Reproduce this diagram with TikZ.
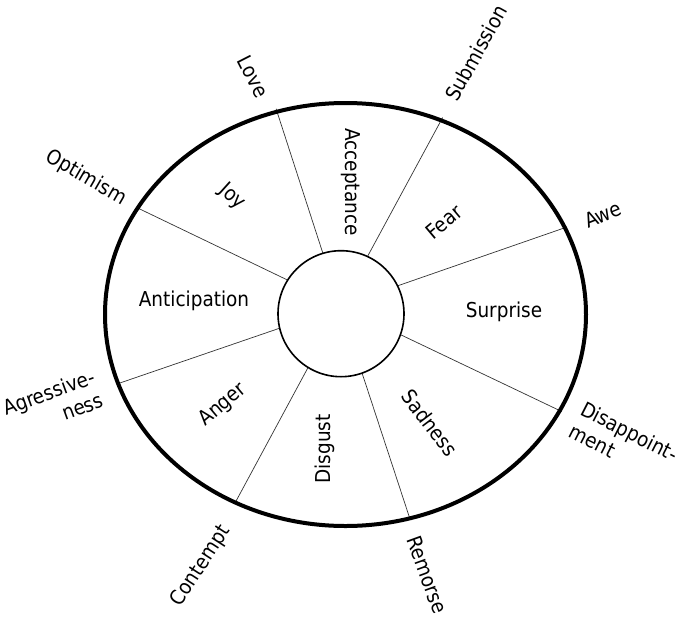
\documentclass[tikz,border=0pt]{standalone}
\usepackage{fontspec}
\setmainfont{DejaVu Sans Condensed}
\usetikzlibrary{shapes.geometric}
\begin{document}
\begin{tikzpicture}[x=1pt,y=-1pt,
  lbl/.style={font=\fontsize{20.5}{25}\selectfont, inner sep=0pt},
  spoke/.style={line width=0.7pt, draw=black!80, shorten <=-4pt, shorten >=-2pt},
]
\useasboundingbox (0,0) rectangle (685,621);

% spoke end points
\coordinate (i1) at (322.7,252.7); \coordinate (o1) at (276.7,110.7);
\coordinate (i2) at (368.3,255);   \coordinate (o2) at (441.7,119.3);
\coordinate (i3) at (400,285);     \coordinate (o3) at (565,227.7);
\coordinate (i4) at (403.3,336);   \coordinate (o4) at (560,410.7);
\coordinate (i5) at (362.7,375);   \coordinate (o5) at (409,516);
\coordinate (i6) at (306.7,370);   \coordinate (o6) at (235.7,501.7);
\coordinate (i7) at (277.3,329);   \coordinate (o7) at (119,383.3);
\coordinate (i8) at (286,279.3);   \coordinate (o8) at (138.3,208.3);

\foreach \k in {1,...,8} { \draw[spoke] (i\k) -- (o\k); }

\node[draw, circle, line width=1.6pt, fill=white, minimum size=126pt, inner sep=0pt] (hub) at (341,313.7) {};
\node[draw, ellipse, line width=4pt, minimum width=481pt, minimum height=423pt, inner sep=0pt] (wheel) at (345.5,314.5) {};

% inner labels
\node[lbl, rotate=-90] (acc) at (351,182) {Acceptance};
\node[lbl, rotate=-42] (joy) at (232,197) {Joy};
\node[lbl, rotate=40]  (fear) at (444,222) {Fear};
\node[lbl]             (sur) at (504,312) {Surprise};
\node[lbl, rotate=-53] (sad) at (430,423) {Sadness};
\node[lbl, rotate=90]  (dis) at (325,449) {Disgust};
\node[lbl, rotate=40]  (ang) at (223,405) {Anger};
\node[lbl]             (ant) at (194,301) {Anticipation};

% outer labels
\node[lbl, rotate=-63] (love) at (253,77) {Love};
\node[lbl, rotate=61]  (sub) at (476,53) {Submission};
\node[lbl, rotate=22]  (awe) at (603,215) {Awe};
\node[lbl, rotate=-27, align=left, anchor=north west] (disap) at (586,400) {Disappoint-\\ment};
\node[lbl, rotate=-70] (rem) at (427,575) {Remorse};
\node[lbl, rotate=57]  (con) at (201,566) {Contempt};
\node[lbl, rotate=20, align=right] (agr) at (53,404) {Agressive-\\ness};
\node[lbl, rotate=-30] (opt) at (86,178) {Optimism};
\end{tikzpicture}
\end{document}
